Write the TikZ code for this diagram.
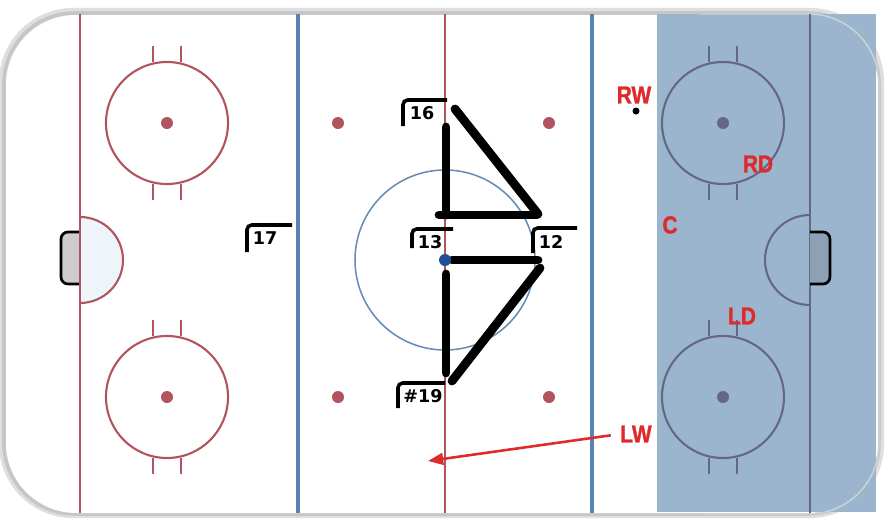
\documentclass[tikz,border=0pt]{standalone}
\usepackage{fontspec}
\setmainfont{DejaVu Sans}
\newfontfamily\numfont{DejaVu Sans Bold}
\newfontfamily\labfont[FakeStretch=0.85,FakeBold=1.3]{Liberation Sans Bold}
\usetikzlibrary{arrows.meta}
\definecolor{rinkred}{RGB}{178,84,94}
\definecolor{rinkblue}{RGB}{88,132,178}
\definecolor{ccblue}{RGB}{100,140,182}
\definecolor{dotblue}{RGB}{30,80,150}
\definecolor{zoneblue}{RGB}{156,181,206}
\definecolor{zoneline}{RGB}{102,102,134}
\definecolor{labred}{RGB}{222,42,42}
\definecolor{crease}{RGB}{238,245,250}
\definecolor{netgray}{RGB}{205,205,205}
\definecolor{netblue}{RGB}{140,160,182}
\tikzset{
  redline/.style={draw=rinkred,line width=2.5pt},
  goalline/.style={draw=rinkred,line width=1.8pt},
  blueline/.style={draw=rinkblue,line width=2.8pt},
  fcircle/.style={draw=rinkred,line width=1.8pt},
  zline/.style={draw=zoneline,line width=1.8pt},
  rdot/.style={fill=rinkred},
  play/.style={draw=black,line width=7.5pt,line cap=round},
  bracket/.style={draw=black,line width=3pt,rounded corners=4pt},
  num/.style={font=\numfont\fontsize{15}{15}\selectfont,inner sep=0pt},
  lab/.style={font=\labfont\fontsize{21}{21}\selectfont,text=labred,inner sep=0pt},
  net/.style={draw=black,line width=2.3pt,rounded corners=6pt}
}
\begin{document}
\begin{tikzpicture}[x=0.03cm,y=-0.03cm]
\useasboundingbox (0,0) rectangle (886,525);
\fill[white] (0,0) rectangle (886,525);
% rink frame shadow
\draw[gray!25,line width=7pt,rounded corners=60pt] (3,12) rectangle (880,514);
\draw[gray!45,line width=3pt,rounded corners=60pt] (4,13) rectangle (879,514);
\fill[white,rounded corners=60pt] (6,15) rectangle (878,513);
% left crease and net
\fill[crease] (80,217) arc[start angle=-90,end angle=90,radius=43] -- cycle;
\draw[fcircle] (80,217) arc[start angle=-90,end angle=90,radius=43];
\filldraw[net,fill=netgray] (80,232) -| (61,284) -- (80,284);
% end zone circles left
\foreach \cy in {123,397}{
  \draw[fcircle] (167,\cy) circle[radius=61];
  \fill[rdot] (167,\cy) circle[radius=6];
  \draw[fcircle] (153,\cy-61) -- (153,\cy-77) (181,\cy-61) -- (181,\cy-77);
  \draw[fcircle] (153,\cy+61) -- (153,\cy+77) (181,\cy+61) -- (181,\cy+77);
}
% lines
\draw[goalline] (80,14) -- (80,513);
\draw[blueline] (298,14) -- (298,513);
\draw[blueline] (592,14) -- (592,513);
\draw[redline] (445,14) -- (445,513);
% neutral dots
\foreach \x/\y in {338/123,549/123,338/397,549/397}{\fill[rdot] (\x,\y) circle[radius=6];}
% centre circle
\draw[ccblue,line width=1.3pt] (445,260) circle[radius=90];
% right zone overlay
\fill[zoneblue] (657,14) rectangle (876,512);
\draw[gray!35,line width=1.2pt,rounded corners=60pt] (700,14) -- (879,14) -- (879,514) -- (700,514);
\foreach \cy in {123,397}{
  \draw[zline] (723,\cy) circle[radius=61];
  \fill[zoneline] (723,\cy) circle[radius=6];
  \draw[zline] (709,\cy-61) -- (709,\cy-77) (737,\cy-61) -- (737,\cy-77);
  \draw[zline] (709,\cy+61) -- (709,\cy+77) (737,\cy+61) -- (737,\cy+77);
}
\draw[zline] (810,215) arc[start angle=-90,end angle=-270,radius=45];
\draw[zline] (810,14) -- (810,513);
\filldraw[net,fill=netblue] (810,232) -| (830,284) -- (810,284);
% player markers
\draw[bracket] (403,126) |- (447,100);
\node[num] (n16) at (422,113) {16};
\draw[bracket] (412,248) |- (453,229);
\node[num] (n13) at (430,242) {13};
\draw[bracket] (533,253) |- (577,228);
\node[num] (n12) at (551,242) {12};
\draw[bracket] (247,252) |- (292,225);
\node[num] (n17) at (265,238) {17};
\draw[bracket] (398,408) |- (445,383);
\node[num] (n19) at (423,396) {\#19};
% play lines
\coordinate (a1) at (455,109); \coordinate (a2) at (538,214);
\coordinate (b1) at (446,127); \coordinate (b2) at (446,215);
\coordinate (c1) at (439,215); \coordinate (c2) at (537,215);
\coordinate (d1) at (452,260); \coordinate (d2) at (538,260);
\coordinate (e1) at (540,268); \coordinate (e2) at (452,381);
\coordinate (f1) at (446,274); \coordinate (f2) at (446,373);
\draw[play] (a1) -- (a2);
\draw[play] (b1) -- (b2);
\draw[play] (c1) -- (c2);
\draw[play] (d1) -- (d2);
\draw[play] (e1) -- (e2);
\draw[play] (f1) -- (f2);
\fill[dotblue] (445,260) circle[radius=6];
% position labels
\node[lab] (RW) at (634,95) {RW};
\fill[black] (636,111) circle[radius=3.5];
\node[lab] (RD) at (758,164) {RD};
\node[lab] (C) at (670,225) {C};
\node[lab] (LD) at (742,316) {LD};
\node[lab] (LW) at (636,434) {LW};
\coordinate (lwtip) at (428,461);
\draw[labred,line width=2.2pt,-{Triangle[length=13pt,width=10pt]},shorten <=8pt] (LW.west) -- (lwtip);
\end{tikzpicture}
\end{document}
